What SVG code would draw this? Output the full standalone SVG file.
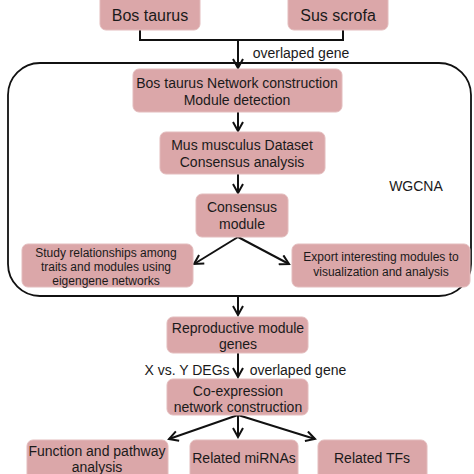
<svg xmlns="http://www.w3.org/2000/svg" width="474" height="474" viewBox="0 0 474 474">
<defs>
<style>
.box{fill:#dba7a9;stroke:#e3bcbd;stroke-width:1}
text{font-family:"Liberation Sans",Arial,sans-serif;fill:#1a1a1a;text-anchor:middle}
.c{fill:none;stroke:#111;stroke-width:2}
.f16{font-size:16px}.f14{font-size:14px}.f13{font-size:13px}.f12{font-size:12px}
</style>
<marker id="ah" viewBox="0 0 12 12" refX="10" refY="6" markerWidth="12" markerHeight="12" markerUnits="userSpaceOnUse" orient="auto">
<path d="M1,1 L10,6 L1,11" fill="none" stroke="#111" stroke-width="2"/>
</marker>
</defs>
<rect width="474" height="474" fill="#fff"/>
<g id="wgcna-frame">
<rect x="8" y="63" width="463" height="233" rx="32" fill="none" stroke="#111" stroke-width="1.8"/>
<text x="416" y="191" class="f14">WGCNA</text>
</g>
<g id="connectors">
<path class="c" d="M140,29 V40 H343 V29"/>
<path class="c" d="M238,40 V68" marker-end="url(#ah)"/>
<path class="c" d="M238,112 V131" marker-end="url(#ah)"/>
<path class="c" d="M238,174 V193" marker-end="url(#ah)"/>
<path class="c" d="M238,237 L194,264" marker-end="url(#ah)"/>
<path class="c" d="M238,237 L289,264" marker-end="url(#ah)"/>
<path class="c" d="M238,297 V315" marker-end="url(#ah)"/>
<path class="c" d="M238,353 V377" marker-end="url(#ah)"/>
<path class="c" d="M238,415 L169,439" marker-end="url(#ah)"/>
<path class="c" d="M238,415 V437" marker-end="url(#ah)"/>
<path class="c" d="M238,415 L315,439" marker-end="url(#ah)"/>
<text x="301" y="58" class="f14">overlaped gene</text>
<text x="187" y="375" class="f14">X vs. Y DEGs</text>
<text x="298" y="375" class="f14">overlaped gene</text>
</g>
<g id="bos-taurus">
<rect class="box" x="100" y="-6" width="100" height="36" rx="6"/>
<text x="150" y="21" class="f16">Bos taurus</text>
</g>
<g id="sus-scrofa">
<rect class="box" x="288" y="-6" width="100" height="36" rx="6"/>
<text x="338" y="21" class="f16">Sus scrofa</text>
</g>
<g id="network-construction">
<rect class="box" x="133" y="69" width="209" height="43" rx="6"/>
<text x="237" y="88" class="f14">Bos taurus Network construction</text>
<text x="237" y="105" class="f14">Module detection</text>
</g>
<g id="mus-musculus">
<rect class="box" x="160" y="132" width="165" height="42" rx="6"/>
<text x="242" y="150" class="f14">Mus musculus Dataset</text>
<text x="242" y="167" class="f14">Consensus analysis</text>
</g>
<g id="consensus-module">
<rect class="box" x="196" y="194" width="92" height="43" rx="6"/>
<text x="242" y="212" class="f14">Consensus</text>
<text x="242" y="229" class="f14">module</text>
</g>
<g id="study-relationships">
<rect class="box" x="22" y="244" width="171" height="43" rx="6"/>
<text x="106" y="257" class="f12">Study relationships among</text>
<text x="106" y="271" class="f12">traits and modules using</text>
<text x="106" y="285" class="f12">eigengene networks</text>
</g>
<g id="export-modules">
<rect class="box" x="292" y="244" width="178" height="43" rx="6"/>
<text x="381" y="261" class="f12">Export interesting modules to</text>
<text x="381" y="276" class="f12">visualization and analysis</text>
</g>
<g id="reproductive-module">
<rect class="box" x="167" y="317" width="141" height="36" rx="6"/>
<text x="238" y="333" class="f14">Reproductive module</text>
<text x="238" y="349" class="f14">genes</text>
</g>
<g id="co-expression">
<rect class="box" x="167" y="379" width="141" height="36" rx="6"/>
<text x="238" y="396" class="f14">Co-expression</text>
<text x="238" y="412" class="f14">network construction</text>
</g>
<g id="function-pathway">
<rect class="box" x="27" y="440" width="141" height="44" rx="6"/>
<text x="97" y="456" class="f14">Function and pathway</text>
<text x="97" y="472" class="f14">analysis</text>
</g>
<g id="related-mirnas">
<rect class="box" x="190" y="440" width="108" height="44" rx="6"/>
<text x="244" y="463" class="f14">Related miRNAs</text>
</g>
<g id="related-tfs">
<rect class="box" x="318" y="440" width="109" height="44" rx="6"/>
<text x="372" y="463" class="f14">Related TFs</text>
</g>
</svg>
